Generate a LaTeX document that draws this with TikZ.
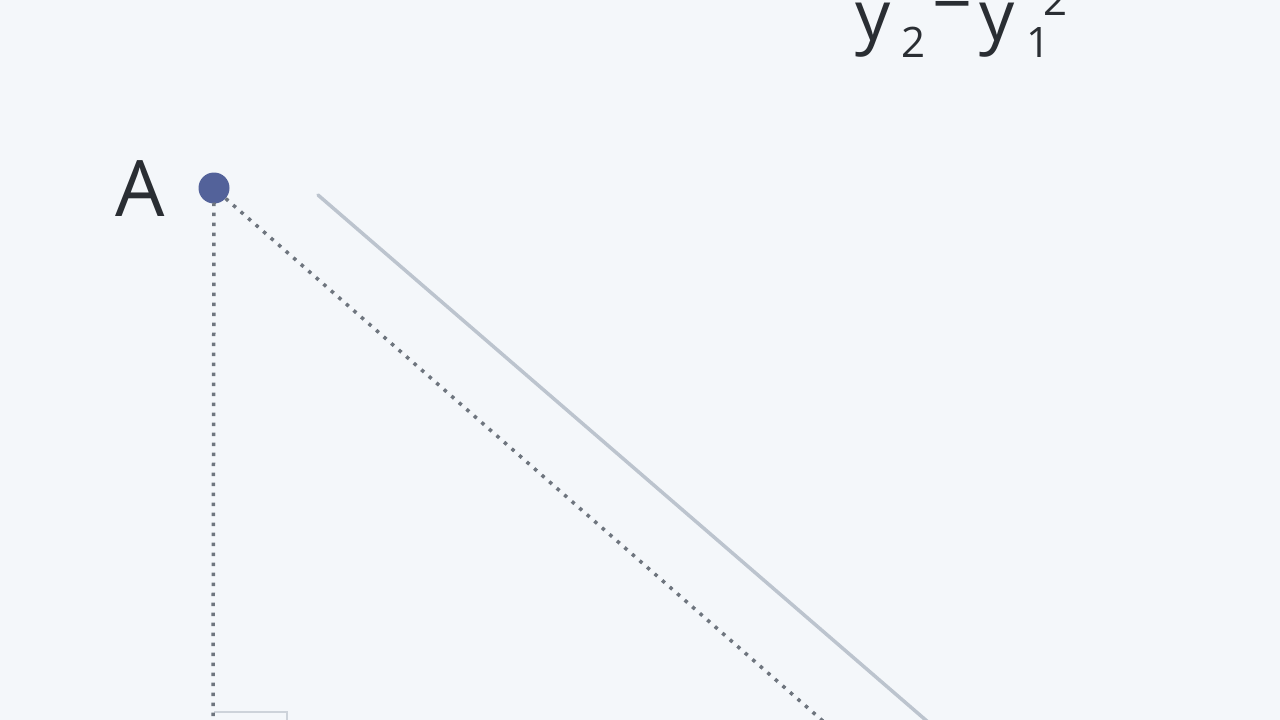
\documentclass[tikz,border=0pt]{standalone}
\usepackage{fontspec}
\setmainfont{Open Sans}
\definecolor{bgc}{HTML}{F4F7FA}
\definecolor{dotc}{HTML}{53629A}
\definecolor{dotline}{HTML}{6E757E}
\definecolor{solidc}{HTML}{BCC4CE}
\definecolor{sqc}{HTML}{CDD3DA}
\definecolor{txtc}{HTML}{2A2E33}
\tikzset{
  dotted line/.style={draw=dotline, line width=3.5pt, dash pattern=on 3.5pt off 6.5pt},
  main text/.style={text=txtc, inner sep=0pt, font=\fontsize{70}{70}\selectfont},
  small text/.style={text=txtc, inner sep=0pt, font=\fontsize{42}{42}\selectfont},
}
\begin{document}
\begin{tikzpicture}[x=1pt,y=-1pt]
\fill[bgc] (0,0) rectangle (1280,720);
\useasboundingbox (0,0) rectangle (1280,720);
% right-angle marker
\coordinate (sq1) at (214,712);
\coordinate (sq2) at (287,712);
\coordinate (sq3) at (287,725);
\draw[sqc, line width=2.5pt] (sq1) -- (sq2) -- (sq3);
% point A
\node[circle, fill=dotc, minimum size=31pt, inner sep=0pt] (A) at (214,188) {};
\node[text=txtc, inner sep=0pt, font=\fontsize{78}{78}\selectfont, anchor=base] (Alabel) at (140,216) {A};
% dotted lines
\coordinate (vend) at (213,722);
\coordinate (dend) at (824,722);
\draw[dotted line] (A.south) ++(0,-1) coordinate (vstart) (vstart) -- (vend);
\draw[dotted line] (A.-42) -- (dend);
% solid line
\coordinate (s1) at (318,195);
\coordinate (s2) at (928,722);
\draw[solidc, line width=3.5pt, line cap=round] (s1) -- (s2);
% formula
\node[main text, anchor=base west] (y2) at (855,40) {y};
\node[small text, anchor=base west] (sub2) at (901,57) {2};
\node[main text, anchor=center] (minus) at (953,15) {−};
\node[main text, anchor=base west] (y1) at (979,40) {y};
\node[small text, anchor=base west] (sub1) at (1026,57) {1};
\node[small text, anchor=base west] (sup2) at (1043,16) {2};
\end{tikzpicture}
\end{document}
